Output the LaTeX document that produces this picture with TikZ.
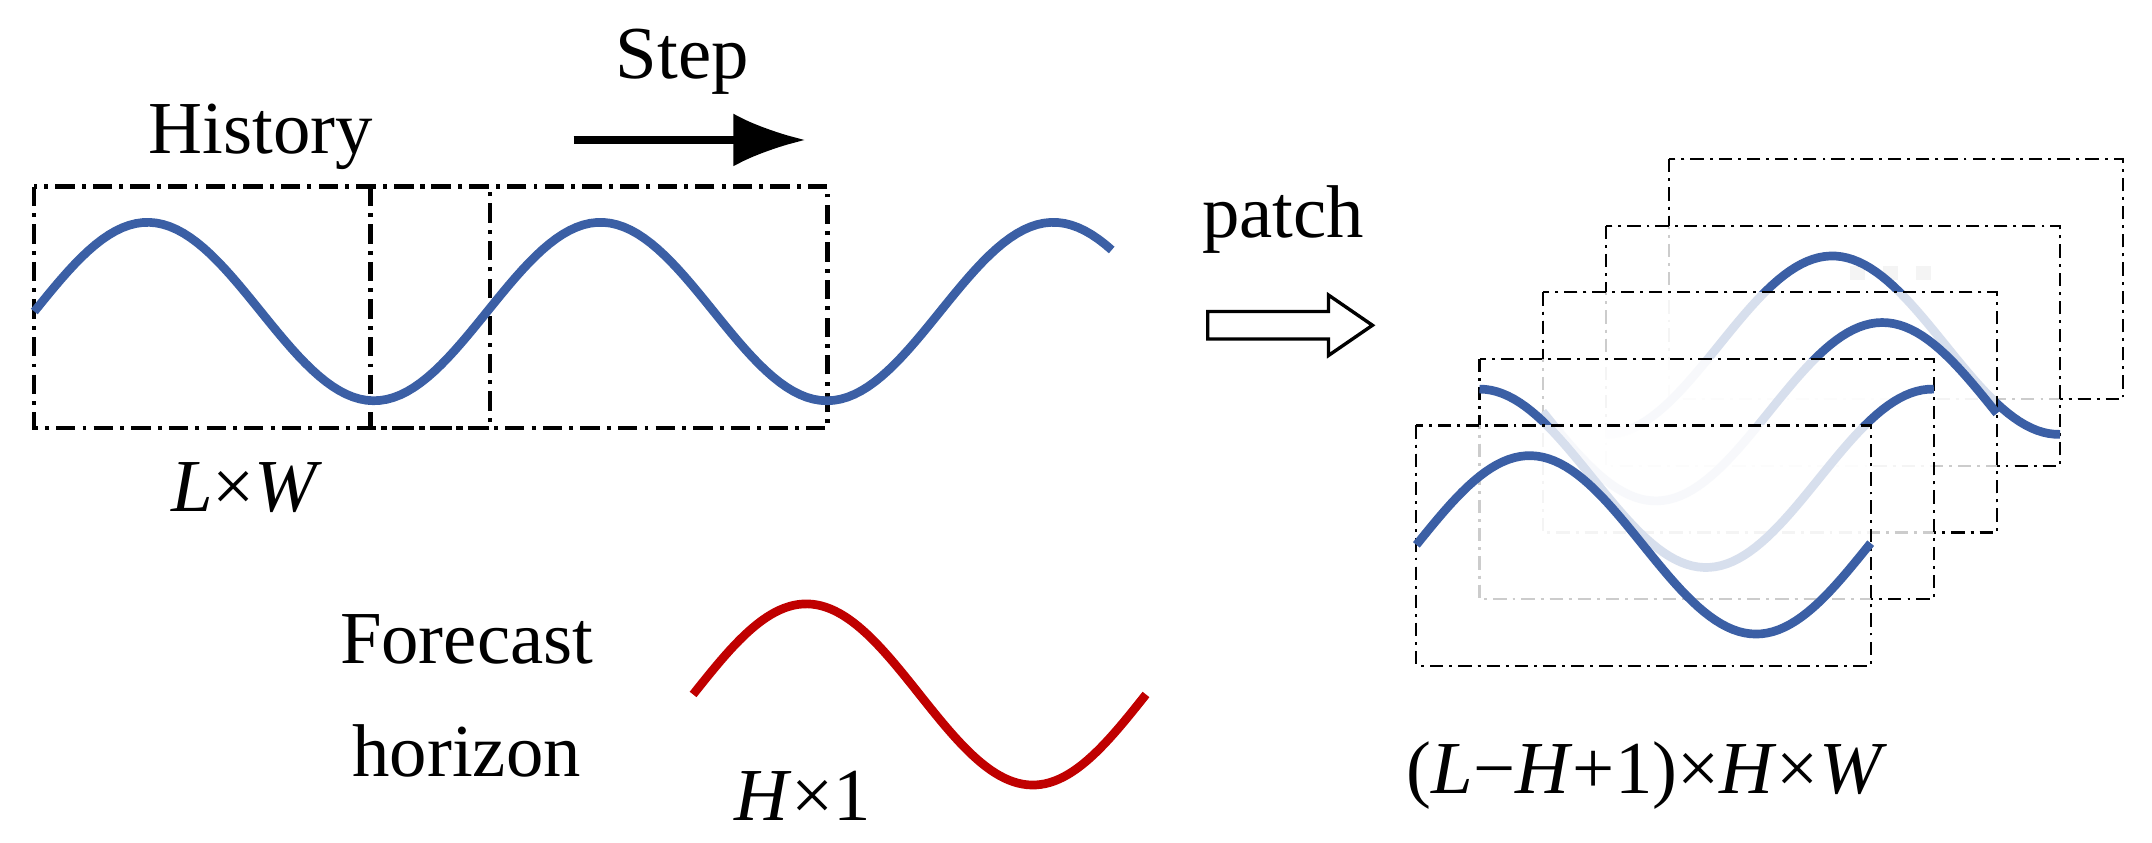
\documentclass[tikz,border=0pt]{standalone}
\usepackage{fontspec}
\setmainfont{Liberation Serif}
\usetikzlibrary{arrows.meta}
\definecolor{wblue}{HTML}{3B5FA5}
\definecolor{wred}{HTML}{C00000}
\tikzset{
  lbl/.style={font=\fontsize{31}{37}\selectfont, inner sep=0pt},
  hbox/.style={draw=black, line width=1.8pt, dash pattern=on 8pt off 3pt on 1.6pt off 3pt},
  pbox/.style={draw=black, line width=0.9pt, dash pattern=on 5.5pt off 2.5pt on 1.2pt off 2.5pt, fill=white, fill opacity=0.8},
  wave/.style={line width=3.6pt, wblue},
}
\begin{document}
\begin{tikzpicture}[x=0.02cm,y=-0.02cm]
\useasboundingbox (0,0) rectangle (1568,614);
% history
\draw[hbox] (25,136) rectangle (357,312);
\draw[hbox] (270,136) rectangle (603,312);
\draw[wave] plot[domain=25:810,samples=160] (\x,{227-65*sin((\x-25)/330*360)});
\node[lbl] (hist) at (190,100) {History};
\node[lbl] (step) at (497,45) {Step};
\coordinate (s1) at (418,102); \coordinate (s2) at (587,102);
\draw[line width=3pt, -{Latex[length=30pt,width=22pt]}] (s1) -- (s2);
\node[lbl] (lw) at (180,355) {\textit{L}×\textit{W}};
% forecast
\node[lbl, align=center] (fc) at (340,507) {Forecast\\[10pt]horizon};
\draw[line width=3.6pt, wred] plot[domain=505:835,samples=100] (\x,{506-66*sin((\x-505)/330*360)});
\node[lbl] (h1) at (585,580) {\textit{H}×1};
% patch arrow
\node[lbl] (patch) at (935,160) {patch};
\draw[line width=1.4pt, fill=white] (880,227) -- (968,227) -- (968,215) -- (1000,237) -- (968,259) -- (968,247) -- (880,247) -- cycle;
% stack
\foreach \i/\ph in {4/0,3/270,2/180,1/90,0/0}{
  \pgfmathsetmacro{\L}{1032+46*\i}
  \pgfmathsetmacro{\T}{310-48.5*\i}
  \path[pbox] (\L,\T) rectangle ++(331,175);
  \draw[line width=0.9pt, dash pattern=on 5.5pt off 2.5pt on 1.2pt off 2.5pt] (\L,\T) rectangle ++(331,175);
  \ifnum\i<4
    \draw[wave] plot[domain=0:331,samples=80] ({\L+\x},{\T+87-65*sin(\x/330*360+\ph)});
  \fi
  \ifnum\i=4
    \foreach \d in {0,24,48}{\fill[black!20] (1348+\d,194) rectangle ++(11,10);}
  \fi
}
\node[lbl] (dim) at (1200,565) {(\textit{L}−\textit{H}+1)×\textit{H}×\textit{W}};
\end{tikzpicture}
\end{document}
